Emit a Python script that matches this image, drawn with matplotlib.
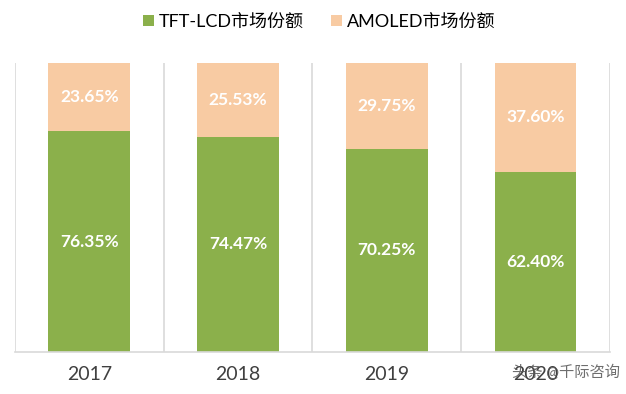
import matplotlib
matplotlib.use("Agg")
import matplotlib.pyplot as plt
import numpy as np

plt.rcParams['font.family'] = ['Lato', 'Noto Sans CJK SC', 'DejaVu Sans']

years = ['2017', '2018', '2019', '2020']
tft_lcd = [76.35, 74.47, 70.25, 62.40]
amoled = [23.65, 25.53, 29.75, 37.60]
series_names = ['TFT-LCD市场份额', 'AMOLED市场份额']

green = '#8BB04B'
peach = '#F8CBA3'
grid_gray = '#D9D9D9'

fig = plt.figure(figsize=(6.26, 3.94), dpi=100)
ax = fig.add_axes([0.024, 0.107, 0.95, 0.733])

x = np.arange(len(years))
b1 = ax.bar(x, tft_lcd, width=0.55, color=green, label=series_names[0])
b2 = ax.bar(x, amoled, width=0.55, bottom=tft_lcd, color=peach, label=series_names[1])

for i in x:
    ax.text(i, tft_lcd[i] / 2, f'{tft_lcd[i]:.2f}%', ha='center', va='center',
            color='white', fontsize=12.5, fontweight='bold')
    ax.text(i, tft_lcd[i] + amoled[i] / 2, f'{amoled[i]:.2f}%', ha='center',
            va='center', color='white', fontsize=12.5, fontweight='bold')

# category separators
for s in np.arange(len(years) + 1) - 0.5:
    ax.axvline(s, color=grid_gray, lw=1.2)

ax.set_xlim(-0.5, len(years) - 0.5)
ax.set_ylim(0, 100)
ax.set_yticks([])
ax.set_xticks(x)
ax.set_xticklabels(years, fontsize=14, color='#404040')
ax.tick_params(axis='x', length=0, pad=10)
for side in ['top', 'right', 'left']:
    ax.spines[side].set_visible(False)
ax.spines['bottom'].set_color(grid_gray)
ax.spines['bottom'].set_linewidth(1.2)

fig.legend(handles=[b1, b2], loc='center', bbox_to_anchor=(0.51, 0.945), ncol=2,
           frameon=False, fontsize=13, handlelength=0.6, handleheight=0.6,
           handletextpad=0.3, columnspacing=1.5)

# watermark in the bottom-right corner, as in the reference
fig.text(0.99, 0.035, '头条 @千际咨询', ha='right', va='bottom', fontsize=11,
         color='#555555', alpha=0.85)

fig.savefig('out.png', dpi=100)
